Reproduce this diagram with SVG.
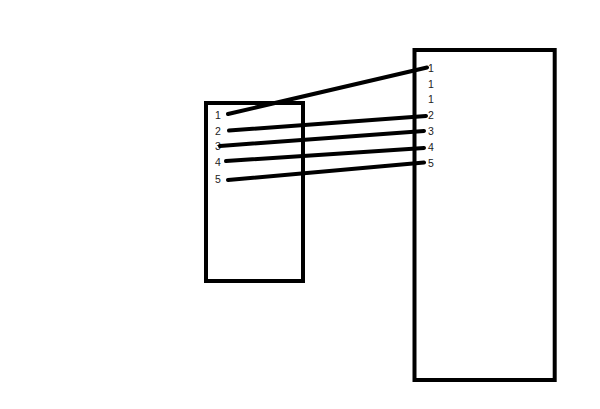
<svg xmlns="http://www.w3.org/2000/svg" width="600" height="409" viewBox="0 0 600 409">
<style>
.box{fill:#fff;stroke:#000;stroke-width:4}
.lbl{font-family:"Liberation Sans",Arial,sans-serif;font-size:10.5px;fill:#222}
.wire{stroke:#000;stroke-width:4;stroke-linecap:round;fill:none}
</style>
<rect width="600" height="409" fill="#fff"/>
<g id="left-box">
<rect class="box" x="206" y="103" width="97" height="178"/>
<text class="lbl" x="215" y="118.5">1</text>
<text class="lbl" x="215" y="135">2</text>
<text class="lbl" x="215" y="150">3</text>
<text class="lbl" x="215" y="166">4</text>
<text class="lbl" x="215" y="183.3">5</text>
</g>
<g id="right-box">
<rect class="box" x="414.5" y="50" width="140.2" height="330"/>
<text class="lbl" x="428" y="72">1</text>
<text class="lbl" x="428" y="87.5">1</text>
<text class="lbl" x="428" y="103">1</text>
<text class="lbl" x="428" y="119.3">2</text>
<text class="lbl" x="428" y="135.3">3</text>
<text class="lbl" x="428" y="151.3">4</text>
<text class="lbl" x="428" y="166.7">5</text>
</g>
<g id="connectors">
<line class="wire" x1="228" y1="114" x2="427" y2="67.5"/>
<line class="wire" x1="229" y1="130.5" x2="426" y2="116"/>
<line class="wire" x1="220" y1="146" x2="424" y2="131"/>
<line class="wire" x1="226" y1="161" x2="424" y2="148"/>
<line class="wire" x1="228" y1="180" x2="424" y2="162.5"/>
</g>
</svg>
